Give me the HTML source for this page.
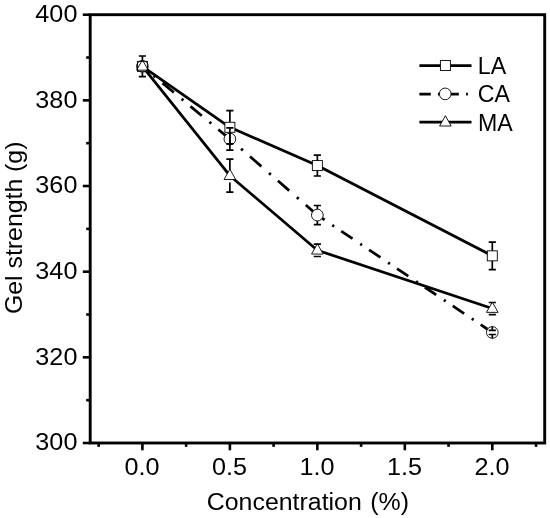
<!DOCTYPE html>
<html><head><meta charset="utf-8"><title>Gel strength vs concentration</title>
<style>html,body{margin:0;padding:0;background:#fff}body{width:550px;height:518px;overflow:hidden}svg{display:block}text{font-family:"Liberation Sans",Arial,sans-serif;fill:#000}</style>
</head><body>
<svg width="550" height="518" viewBox="0 0 550 518">
<rect x="0" y="0" width="550" height="518" fill="#fff"/>
<g fill="none" stroke="#000" stroke-width="2.75" stroke-linejoin="round">
<polyline points="142.40,66.35 229.88,127.30 317.35,165.59 492.30,255.83"/>
<polyline points="142.40,66.35 229.88,175.70 317.35,250.26 492.30,308.56"/>
<line x1="142.40" y1="66.35" x2="146.00" y2="69.34"/>
<line x1="153.70" y1="75.74" x2="155.50" y2="77.24"/>
<line x1="162.60" y1="83.14" x2="173.90" y2="92.53"/>
<line x1="181.60" y1="98.92" x2="183.40" y2="100.42"/>
<line x1="190.50" y1="106.32" x2="201.80" y2="115.71"/>
<line x1="209.45" y1="122.06" x2="211.25" y2="123.56"/>
<line x1="218.35" y1="129.46" x2="229.65" y2="138.85"/>
<line x1="229.88" y1="139.04" x2="233.40" y2="142.10"/>
<line x1="241.10" y1="148.80" x2="242.90" y2="150.36"/>
<line x1="250.00" y1="156.54" x2="261.30" y2="166.36"/>
<line x1="269.00" y1="173.06" x2="270.80" y2="174.62"/>
<line x1="277.90" y1="180.80" x2="289.20" y2="190.62"/>
<line x1="296.90" y1="197.32" x2="298.70" y2="198.88"/>
<line x1="305.80" y1="205.06" x2="317.10" y2="214.88"/>
<line x1="471.80" y1="318.70" x2="473.60" y2="319.91"/>
<line x1="480.70" y1="324.67" x2="492.00" y2="332.25"/>
<line x1="443.90" y1="299.99" x2="445.70" y2="301.20"/>
<line x1="452.80" y1="305.96" x2="464.10" y2="313.54"/>
<line x1="416.00" y1="281.27" x2="417.80" y2="282.48"/>
<line x1="424.90" y1="287.24" x2="436.20" y2="294.82"/>
<line x1="388.10" y1="262.56" x2="389.90" y2="263.77"/>
<line x1="397.00" y1="268.53" x2="408.30" y2="276.11"/>
<line x1="360.20" y1="243.84" x2="362.00" y2="245.05"/>
<line x1="369.10" y1="249.81" x2="380.40" y2="257.39"/>
<line x1="332.30" y1="225.13" x2="334.10" y2="226.34"/>
<line x1="341.20" y1="231.10" x2="352.50" y2="238.68"/>
<line x1="317.35" y1="215.10" x2="324.60" y2="219.96"/>
</g>
<rect x="137.40" y="61.35" width="10" height="10" fill="#fff" stroke="#000" stroke-width="0.9"/>
<circle cx="142.40" cy="66.35" r="5.85" fill="none" stroke="#000" stroke-width="0.9"/>
<polygon points="142.40,59.85 148.20,70.15 136.60,70.15" fill="none" stroke="#000" stroke-width="0.9" stroke-linejoin="miter"/>
<path d="M138.80 55.99 H146.00 M142.40 55.99 V60.35 M138.80 76.72 H146.00 M142.40 76.72 V72.35" fill="none" stroke="#000" stroke-width="1.70"/>
<rect x="224.88" y="122.30" width="10" height="10" fill="#fff" stroke="#000" stroke-width="0.9"/>
<circle cx="229.88" cy="139.04" r="5.85" fill="#fff" stroke="#000" stroke-width="0.9"/>
<polygon points="229.88,169.20 235.68,179.50 224.07,179.50" fill="#fff" stroke="#000" stroke-width="0.9" stroke-linejoin="miter"/>
<path d="M226.28 110.64 H233.47 M229.88 110.64 V122.10 M226.28 143.96 H233.47 M229.88 143.96 V132.50" fill="none" stroke="#000" stroke-width="1.70"/>
<path d="M226.28 127.90 H233.47 M229.88 127.90 V133.04 M226.28 150.17 H233.47 M229.88 150.17 V145.04" fill="none" stroke="#000" stroke-width="1.70"/>
<line x1="229.88" y1="132.84" x2="229.88" y2="145.24" stroke="#000" stroke-width="1.70"/>
<path d="M226.28 159.21 H233.47 M229.88 159.21 V169.70 M226.28 192.19 H233.47 M229.88 192.19 V182.40" fill="none" stroke="#000" stroke-width="1.70"/>
<rect x="312.35" y="160.59" width="10" height="10" fill="#fff" stroke="#000" stroke-width="0.9"/>
<path d="M313.75 155.18 H320.95 M317.35 155.18 V160.39 M313.75 176.00 H320.95 M317.35 176.00 V170.79" fill="none" stroke="#000" stroke-width="1.70"/>
<circle cx="317.35" cy="215.10" r="5.85" fill="#fff" stroke="#000" stroke-width="0.9"/>
<path d="M313.75 205.51 H320.95 M317.35 205.51 V209.10 M313.75 224.70 H320.95 M317.35 224.70 V221.10" fill="none" stroke="#000" stroke-width="1.70"/>
<polygon points="317.35,243.76 323.15,254.06 311.55,254.06" fill="#fff" stroke="#000" stroke-width="0.9" stroke-linejoin="miter"/>
<path d="M313.75 244.05 H320.95 M313.75 256.48 H320.95" fill="none" stroke="#000" stroke-width="1.70"/>
<rect x="487.30" y="250.83" width="10" height="10" fill="#fff" stroke="#000" stroke-width="0.9"/>
<path d="M488.70 242.08 H495.90 M492.30 242.08 V250.63 M488.70 269.58 H495.90 M492.30 269.58 V261.03" fill="none" stroke="#000" stroke-width="1.70"/>
<polygon points="492.30,302.06 498.10,312.36 486.50,312.36" fill="#fff" stroke="#000" stroke-width="0.9" stroke-linejoin="miter"/>
<path d="M488.70 302.52 H495.90 M488.70 314.60 H495.90" fill="none" stroke="#000" stroke-width="1.70"/>
<circle cx="492.30" cy="332.46" r="5.85" fill="#fff" stroke="#000" stroke-width="0.9"/>
<path d="M488.70 330.40 H495.90 M492.30 330.40 V326.46 M488.70 334.51 H495.90 M492.30 334.51 V338.46" fill="none" stroke="#000" stroke-width="1.70"/>
<g fill="none" stroke="#000" stroke-width="2.9" stroke-linecap="butt">
<rect x="90.20" y="14.70" width="454.50" height="428.30"/>
</g>
<g fill="none" stroke="#000" stroke-width="2.6">
<line x1="82.80" y1="443.00" x2="90.20" y2="443.00"/>
<line x1="86.20" y1="400.17" x2="90.20" y2="400.17"/>
<line x1="82.80" y1="357.34" x2="90.20" y2="357.34"/>
<line x1="86.20" y1="314.51" x2="90.20" y2="314.51"/>
<line x1="82.80" y1="271.68" x2="90.20" y2="271.68"/>
<line x1="86.20" y1="228.85" x2="90.20" y2="228.85"/>
<line x1="82.80" y1="186.02" x2="90.20" y2="186.02"/>
<line x1="86.20" y1="143.19" x2="90.20" y2="143.19"/>
<line x1="82.80" y1="100.36" x2="90.20" y2="100.36"/>
<line x1="86.20" y1="57.53" x2="90.20" y2="57.53"/>
<line x1="82.80" y1="14.70" x2="90.20" y2="14.70"/>
<line x1="98.66" y1="443.00" x2="98.66" y2="446.90"/>
<line x1="142.40" y1="443.00" x2="142.40" y2="450.30"/>
<line x1="186.14" y1="443.00" x2="186.14" y2="446.90"/>
<line x1="229.88" y1="443.00" x2="229.88" y2="450.30"/>
<line x1="273.61" y1="443.00" x2="273.61" y2="446.90"/>
<line x1="317.35" y1="443.00" x2="317.35" y2="450.30"/>
<line x1="361.09" y1="443.00" x2="361.09" y2="446.90"/>
<line x1="404.82" y1="443.00" x2="404.82" y2="450.30"/>
<line x1="448.56" y1="443.00" x2="448.56" y2="446.90"/>
<line x1="492.30" y1="443.00" x2="492.30" y2="450.30"/>
<line x1="536.04" y1="443.00" x2="536.04" y2="446.90"/>
</g>
<text transform="translate(77.40,450.20) scale(1.072,1)" text-anchor="end" font-size="23.5">300</text>
<text transform="translate(77.40,364.54) scale(1.072,1)" text-anchor="end" font-size="23.5">320</text>
<text transform="translate(77.40,278.88) scale(1.072,1)" text-anchor="end" font-size="23.5">340</text>
<text transform="translate(77.40,193.22) scale(1.072,1)" text-anchor="end" font-size="23.5">360</text>
<text transform="translate(77.40,107.56) scale(1.072,1)" text-anchor="end" font-size="23.5">380</text>
<text transform="translate(77.40,21.90) scale(1.072,1)" text-anchor="end" font-size="23.5">400</text>
<text transform="translate(142.00,474.90) scale(1.072,1)" text-anchor="middle" font-size="23.5">0.0</text>
<text transform="translate(229.47,474.90) scale(1.072,1)" text-anchor="middle" font-size="23.5">0.5</text>
<text transform="translate(316.95,474.90) scale(1.072,1)" text-anchor="middle" font-size="23.5">1.0</text>
<text transform="translate(404.42,474.90) scale(1.072,1)" text-anchor="middle" font-size="23.5">1.5</text>
<text transform="translate(491.90,474.90) scale(1.072,1)" text-anchor="middle" font-size="23.5">2.0</text>
<text transform="translate(307.90,509.70) scale(1.060,1)" text-anchor="middle" font-size="23.5" word-spacing="1.5">Concentration (%)</text>
<text transform="translate(21.60,227.80) rotate(-90) scale(1.057,1)" text-anchor="middle" font-size="23.5">Gel strength (g)</text>
<g fill="none" stroke="#000" stroke-width="2.75">
<line x1="419.40" y1="65.6" x2="471.50" y2="65.6"/>
<line x1="419.40" y1="122.2" x2="471.50" y2="122.2"/>
<path d="M419.4 94 H430.8 M437.9 94 H439.4 M451 94 H458.8 M466.1 94 H467.9"/>
</g>
<rect x="440.40" y="60.50" width="10" height="10" fill="#fff" stroke="#000" stroke-width="0.9"/>
<circle cx="445.20" cy="93.90" r="5.85" fill="#fff" stroke="#000" stroke-width="0.9"/>
<polygon points="445.40,115.70 451.20,126.00 439.60,126.00" fill="#fff" stroke="#000" stroke-width="0.9" stroke-linejoin="miter"/>
<text transform="translate(477.80,73.90) scale(0.965,1)" text-anchor="start" font-size="24">LA</text>
<text transform="translate(477.80,102.30) scale(0.965,1)" text-anchor="start" font-size="24">CA</text>
<text transform="translate(478.00,130.80) scale(0.965,1)" text-anchor="start" font-size="24">MA</text>
</svg></body></html>
